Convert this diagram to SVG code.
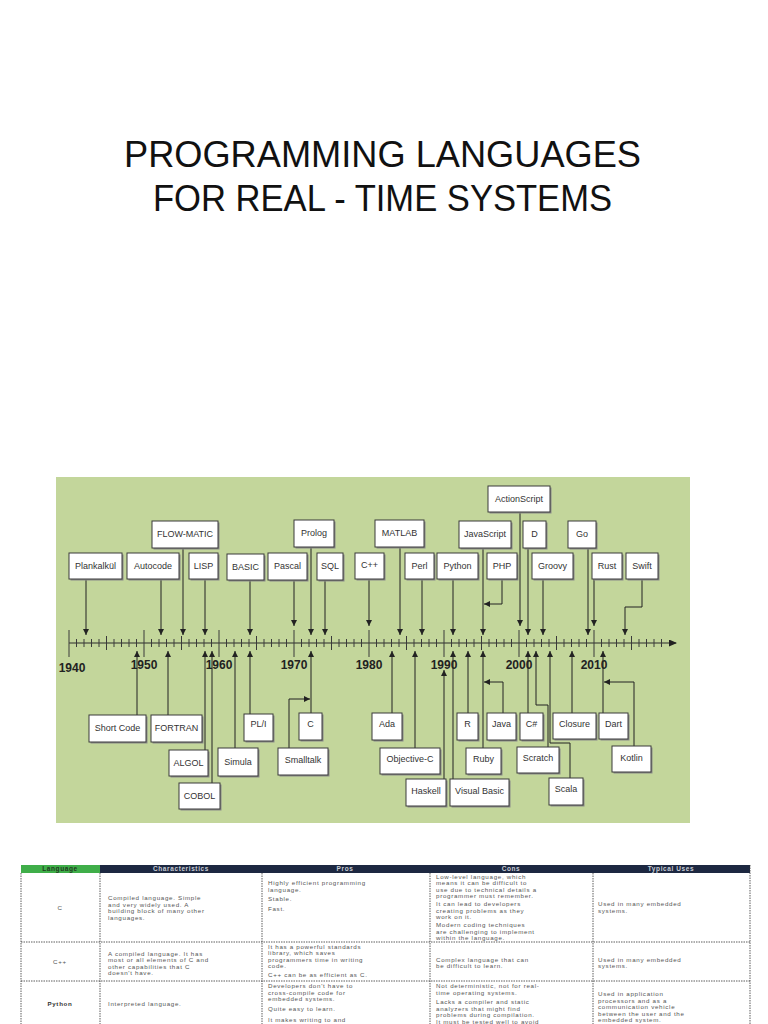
<svg xmlns="http://www.w3.org/2000/svg" width="768" height="1024" viewBox="0 0 768 1024">
<defs>
<style>
.title{font-family:"Liberation Sans",Arial,sans-serif;font-size:37px;fill:#111;text-anchor:middle}
.box rect.b{fill:#fff;stroke:#3a3a3a;stroke-width:1}
.box rect.s{fill:#8a8a8a}
.box text{font-family:"Liberation Sans",Arial,sans-serif;font-size:9px;fill:#333;text-anchor:middle}
.yr{font-family:"Liberation Sans",Arial,sans-serif;font-size:12px;font-weight:bold;fill:#222;text-anchor:middle}
.ax{stroke:#2a2a2a;stroke-width:1.2;fill:none}
.tk{stroke:#3a3a3a;stroke-width:1}
.cn path{stroke:#222;stroke-width:1;fill:none}
.cn .d{marker-end:url(#ah)}
.tbl text{font-family:"Liberation Sans",Arial,sans-serif;font-size:6.2px;fill:#555;letter-spacing:0.7px}
.tbl .h{font-weight:bold;fill:#c8ccd4;text-anchor:middle;font-size:6.5px;letter-spacing:0.6px}
.grid{stroke:#333;stroke-width:0.8;stroke-dasharray:1.5 1;fill:none}
</style>
<marker id="ah" markerUnits="userSpaceOnUse" markerWidth="6" markerHeight="6" refX="6" refY="3" orient="auto">
<path d="M0,0 L6,3 L0,6 z" fill="#222"/>
</marker>
<marker id="axh" markerUnits="userSpaceOnUse" markerWidth="8" markerHeight="7" refX="7" refY="3.5" orient="auto">
<path d="M0,0 L8,3.5 L0,7 z" fill="#222"/>
</marker>
</defs>
<rect width="768" height="1024" fill="#fff"/>
<text class="title" x="382.5" y="167" textLength="517" lengthAdjust="spacingAndGlyphs">PROGRAMMING LANGUAGES</text>
<text class="title" x="382.5" y="211" textLength="459" lengthAdjust="spacingAndGlyphs">FOR REAL - TIME SYSTEMS</text>

<rect id="panel" x="56" y="477" width="634" height="346" fill="#c3d69b"/>

<g id="axis">
<path class="ax" d="M69,643 H676" marker-end="url(#axh)"/>
<path class="tk" d="M69,630V657M144,630V657M219,630V657M294,630V657M369,630V657M444,630V657M519,630V657M594,630V657"/>
<path class="tk" d="M76.5,639V647M84,639V647M91.5,639V647M99,639V647M114,639V647M121.5,639V647M129,639V647M136.5,639V647
M151.5,639V647M159,639V647M166.5,639V647M174,639V647M189,639V647M196.5,639V647M204,639V647M211.5,639V647
M226.5,639V647M234,639V647M241.5,639V647M249,639V647M264,639V647M271.5,639V647M279,639V647M286.5,639V647
M301.5,639V647M309,639V647M316.5,639V647M324,639V647M339,639V647M346.5,639V647M354,639V647M361.5,639V647
M376.5,639V647M384,639V647M391.5,639V647M399,639V647M414,639V647M421.5,639V647M429,639V647M436.5,639V647
M451.5,639V647M459,639V647M466.5,639V647M474,639V647M489,639V647M496.5,639V647M504,639V647M511.5,639V647
M526.5,639V647M534,639V647M541.5,639V647M549,639V647M564,639V647M571.5,639V647M579,639V647M586.5,639V647
M601.5,639V647M609,639V647M616.5,639V647M624,639V647M639,639V647M646.5,639V647M654,639V647M661.5,639V647"/>
<path class="tk" d="M106.5,636V650M181.5,636V650M256.5,636V650M331.5,636V650M406.5,636V650M481.5,636V650M556.5,636V650M631.5,636V650"/>
<text class="yr" x="72" y="672">1940</text>
<text class="yr" x="144" y="669">1950</text>
<text class="yr" x="219" y="669">1960</text>
<text class="yr" x="294" y="669">1970</text>
<text class="yr" x="369" y="669">1980</text>
<text class="yr" x="444" y="669">1990</text>
<text class="yr" x="519" y="669">2000</text>
<text class="yr" x="594" y="669">2010</text>
</g>

<g id="connectors" class="cn">
<path class="d" d="M86,579V635"/>
<path class="d" d="M161,579V635"/>
<path class="d" d="M183,548V635"/>
<path class="d" d="M205,579V635"/>
<path class="d" d="M250,580V635"/>
<path class="d" d="M294,580V626"/>
<path class="d" d="M311,547V635"/>
<path class="d" d="M325,580V635"/>
<path class="d" d="M369,579V626"/>
<path class="d" d="M400,547V635"/>
<path class="d" d="M422,579V635"/>
<path class="d" d="M453,579V635"/>
<path class="d" d="M483,548V635"/>
<path class="d" d="M502,579V604H484"/>
<path class="d" d="M520,512V626"/>
<path class="d" d="M528,548V635"/>
<path class="d" d="M543,579V635"/>
<path class="d" d="M588,548V635"/>
<path class="d" d="M594,579V626"/>
<path class="d" d="M642,579V607H625V635"/>
<path class="d" d="M137,715V651"/>
<path class="d" d="M168,715V651"/>
<path class="d" d="M205,750V651"/>
<path class="d" d="M212,783V651"/>
<path class="d" d="M235,748V651"/>
<path class="d" d="M250,714V651"/>
<path class="d" d="M311,713V651"/>
<path class="d" d="M289,748V699H310"/>
<path class="d" d="M392,713V651"/>
<path class="d" d="M415,748V651"/>
<path class="d" d="M444,779V670"/>
<path class="d" d="M453,779V651"/>
<path class="d" d="M468,713V651"/>
<path class="d" d="M483,748V651"/>
<path class="d" d="M503,713V682H484"/>
<path class="d" d="M528,713V651"/>
<path class="d" d="M548,747V705H536V651"/>
<path class="d" d="M570,778V743H550V651"/>
<path class="d" d="M572,713V651"/>
<path class="d" d="M603,713V651"/>
<path class="d" d="M634,746V682H604"/>
</g>

<g id="n-plankalkul" class="box"><rect class="s" x="70.5" y="554.5" width="53" height="26"/><rect class="b" x="69" y="553" width="53" height="26"/><text x="95.5" y="569">Plankalkül</text></g>
<g id="n-autocode" class="box"><rect class="s" x="128.5" y="554.5" width="52" height="26"/><rect class="b" x="127" y="553" width="52" height="26"/><text x="153" y="569">Autocode</text></g>
<g id="n-flowmatic" class="box"><rect class="s" x="153.5" y="522.5" width="66" height="27"/><rect class="b" x="152" y="521" width="66" height="27"/><text x="185" y="537">FLOW-MATIC</text></g>
<g id="n-lisp" class="box"><rect class="s" x="190.5" y="554.5" width="29" height="26"/><rect class="b" x="189" y="553" width="29" height="26"/><text x="203.5" y="569">LISP</text></g>
<g id="n-basic" class="box"><rect class="s" x="228.5" y="555.5" width="37" height="26"/><rect class="b" x="227" y="554" width="37" height="26"/><text x="245.5" y="570">BASIC</text></g>
<g id="n-pascal" class="box"><rect class="s" x="269.5" y="554.5" width="39" height="27"/><rect class="b" x="268" y="553" width="39" height="27"/><text x="287.5" y="569">Pascal</text></g>
<g id="n-prolog" class="box"><rect class="s" x="295.5" y="521.5" width="40" height="27"/><rect class="b" x="294" y="520" width="40" height="27"/><text x="314" y="536">Prolog</text></g>
<g id="n-sql" class="box"><rect class="s" x="318.5" y="554.5" width="26" height="27"/><rect class="b" x="317" y="553" width="26" height="27"/><text x="330" y="569">SQL</text></g>
<g id="n-cpp" class="box"><rect class="s" x="356.5" y="554.5" width="29" height="26"/><rect class="b" x="355" y="553" width="29" height="26"/><text x="369.5" y="568">C++</text></g>
<g id="n-matlab" class="box"><rect class="s" x="376.5" y="521.5" width="49" height="27"/><rect class="b" x="375" y="520" width="49" height="27"/><text x="399.5" y="536">MATLAB</text></g>
<g id="n-perl" class="box"><rect class="s" x="406.5" y="554.5" width="29" height="26"/><rect class="b" x="405" y="553" width="29" height="26"/><text x="419.5" y="569">Perl</text></g>
<g id="n-python" class="box"><rect class="s" x="438.5" y="554.5" width="41" height="26"/><rect class="b" x="437" y="553" width="41" height="26"/><text x="457.5" y="569">Python</text></g>
<g id="n-javascript" class="box"><rect class="s" x="460.5" y="522.5" width="52" height="27"/><rect class="b" x="459" y="521" width="52" height="27"/><text x="485" y="537">JavaScript</text></g>
<g id="n-php" class="box"><rect class="s" x="488.5" y="554.5" width="30" height="26"/><rect class="b" x="487" y="553" width="30" height="26"/><text x="502" y="569">PHP</text></g>
<g id="n-actionscript" class="box"><rect class="s" x="489.5" y="487.5" width="62" height="26"/><rect class="b" x="488" y="486" width="62" height="26"/><text x="519" y="502">ActionScript</text></g>
<g id="n-d" class="box"><rect class="s" x="524.5" y="522.5" width="23" height="27"/><rect class="b" x="523" y="521" width="23" height="27"/><text x="534.5" y="537">D</text></g>
<g id="n-groovy" class="box"><rect class="s" x="533.5" y="554.5" width="41" height="26"/><rect class="b" x="532" y="553" width="41" height="26"/><text x="552.5" y="569">Groovy</text></g>
<g id="n-go" class="box"><rect class="s" x="569.5" y="522.5" width="28" height="27"/><rect class="b" x="568" y="521" width="28" height="27"/><text x="582" y="537">Go</text></g>
<g id="n-rust" class="box"><rect class="s" x="593.5" y="554.5" width="30" height="26"/><rect class="b" x="592" y="553" width="30" height="26"/><text x="607" y="569">Rust</text></g>
<g id="n-swift" class="box"><rect class="s" x="627.5" y="554.5" width="32" height="26"/><rect class="b" x="626" y="553" width="32" height="26"/><text x="642" y="569">Swift</text></g>

<g id="n-shortcode" class="box"><rect class="s" x="90.5" y="716.5" width="57" height="27"/><rect class="b" x="89" y="715" width="57" height="27"/><text x="117.5" y="731">Short Code</text></g>
<g id="n-fortran" class="box"><rect class="s" x="152.5" y="716.5" width="51" height="27"/><rect class="b" x="151" y="715" width="51" height="27"/><text x="176.5" y="731">FORTRAN</text></g>
<g id="n-algol" class="box"><rect class="s" x="170.5" y="751.5" width="39" height="26"/><rect class="b" x="169" y="750" width="39" height="26"/><text x="188.5" y="766">ALGOL</text></g>
<g id="n-cobol" class="box"><rect class="s" x="180.5" y="784.5" width="41" height="26"/><rect class="b" x="179" y="783" width="41" height="26"/><text x="199.5" y="799">COBOL</text></g>
<g id="n-simula" class="box"><rect class="s" x="219.5" y="749.5" width="40" height="28"/><rect class="b" x="218" y="748" width="40" height="28"/><text x="238" y="765">Simula</text></g>
<g id="n-pli" class="box"><rect class="s" x="245.5" y="715.5" width="29" height="27"/><rect class="b" x="244" y="714" width="29" height="27"/><text x="258.5" y="727">PL/I</text></g>
<g id="n-c" class="box"><rect class="s" x="300.5" y="714.5" width="23" height="27"/><rect class="b" x="299" y="713" width="23" height="27"/><text x="310.5" y="727">C</text></g>
<g id="n-smalltalk" class="box"><rect class="s" x="279.5" y="749.5" width="50" height="27"/><rect class="b" x="278" y="748" width="50" height="27"/><text x="303" y="763">Smalltalk</text></g>
<g id="n-ada" class="box"><rect class="s" x="373.5" y="714.5" width="30" height="27"/><rect class="b" x="372" y="713" width="30" height="27"/><text x="387" y="727">Ada</text></g>
<g id="n-objectivec" class="box"><rect class="s" x="381.5" y="749.5" width="60" height="26"/><rect class="b" x="380" y="748" width="60" height="26"/><text x="410" y="762">Objective-C</text></g>
<g id="n-haskell" class="box"><rect class="s" x="407.5" y="780.5" width="40" height="27"/><rect class="b" x="406" y="779" width="40" height="27"/><text x="426" y="794">Haskell</text></g>
<g id="n-visualbasic" class="box"><rect class="s" x="451.5" y="780.5" width="59" height="27"/><rect class="b" x="450" y="779" width="59" height="27"/><text x="479.5" y="794">Visual Basic</text></g>
<g id="n-r" class="box"><rect class="s" x="458.5" y="714.5" width="21" height="27"/><rect class="b" x="457" y="713" width="21" height="27"/><text x="467.5" y="727">R</text></g>
<g id="n-ruby" class="box"><rect class="s" x="467.5" y="749.5" width="35" height="26"/><rect class="b" x="466" y="748" width="35" height="26"/><text x="483.5" y="762">Ruby</text></g>
<g id="n-java" class="box"><rect class="s" x="488.5" y="714.5" width="29" height="27"/><rect class="b" x="487" y="713" width="29" height="27"/><text x="501.5" y="727">Java</text></g>
<g id="n-csharp" class="box"><rect class="s" x="521.5" y="714.5" width="23" height="27"/><rect class="b" x="520" y="713" width="23" height="27"/><text x="531.5" y="727">C#</text></g>
<g id="n-scratch" class="box"><rect class="s" x="518.5" y="748.5" width="42" height="26"/><rect class="b" x="517" y="747" width="42" height="26"/><text x="538" y="761">Scratch</text></g>
<g id="n-scala" class="box"><rect class="s" x="550.5" y="779.5" width="34" height="27"/><rect class="b" x="549" y="778" width="34" height="27"/><text x="566" y="792">Scala</text></g>
<g id="n-closure" class="box"><rect class="s" x="554.5" y="714.5" width="43" height="26"/><rect class="b" x="553" y="713" width="43" height="26"/><text x="574.5" y="727">Closure</text></g>
<g id="n-dart" class="box"><rect class="s" x="600.5" y="714.5" width="29" height="26"/><rect class="b" x="599" y="713" width="29" height="26"/><text x="613.5" y="727">Dart</text></g>
<g id="n-kotlin" class="box"><rect class="s" x="613.5" y="747.5" width="39" height="26"/><rect class="b" x="612" y="746" width="39" height="26"/><text x="631.5" y="761">Kotlin</text></g>

<g id="table" class="tbl">
<rect x="21" y="865" width="79" height="8" fill="#3fae49"/>
<rect x="100" y="865" width="650" height="8" fill="#1d2841"/>
<text class="h" x="60" y="871.3" style="fill:#1f3a1f">Language</text>
<text class="h" x="181" y="871.3">Characteristics</text>
<text class="h" x="345" y="871.3">Pros</text>
<text class="h" x="511" y="871.3">Cons</text>
<text class="h" x="671" y="871.3">Typical Uses</text>
<path class="grid" d="M21,873V1024M100,873V1024M262,873V1024M430,873V1024M593,873V1024M750,865V1024M21,942H750M21,981H750"/>
<text x="60" y="910" text-anchor="middle">C</text>
<text x="108" y="900">Compiled language. Simple</text>
<text x="108" y="906.5">and very widely used. A</text>
<text x="108" y="913">building block of many other</text>
<text x="108" y="919.5">languages.</text>
<text x="268" y="885">Highly efficient programming</text>
<text x="268" y="891.5">language.</text>
<text x="268" y="901">Stable.</text>
<text x="268" y="911">Fast.</text>
<text x="436" y="878.5">Low-level language, which</text>
<text x="436" y="885">means it can be difficult to</text>
<text x="436" y="891.5">use due to technical details a</text>
<text x="436" y="898">programmer must remember.</text>
<text x="436" y="906">It can lead to developers</text>
<text x="436" y="912.5">creating problems as they</text>
<text x="436" y="919">work on it.</text>
<text x="436" y="927">Modern coding techniques</text>
<text x="436" y="933.5">are challenging to implement</text>
<text x="436" y="940">within the language.</text>
<text x="598" y="906">Used in many embedded</text>
<text x="598" y="912.5">systems.</text>
<text x="60" y="964" text-anchor="middle">C++</text>
<text x="108" y="955.5">A compiled language. It has</text>
<text x="108" y="962">most or all elements of C and</text>
<text x="108" y="968.5">other capabilities that C</text>
<text x="108" y="975">doesn't have.</text>
<text x="268" y="948.5">It has a powerful standards</text>
<text x="268" y="955">library, which saves</text>
<text x="268" y="961.5">programmers time in writing</text>
<text x="268" y="968">code.</text>
<text x="268" y="977">C++ can be as efficient as C.</text>
<text x="436" y="961.5">Complex language that can</text>
<text x="436" y="968">be difficult to learn.</text>
<text x="598" y="961.5">Used in many embedded</text>
<text x="598" y="968">systems.</text>
<text x="60" y="1006" text-anchor="middle" style="font-weight:bold;fill:#333">Python</text>
<text x="108" y="1006">Interpreted language.</text>
<text x="268" y="988">Developers don't have to</text>
<text x="268" y="994.5">cross-compile code for</text>
<text x="268" y="1001">embedded systems.</text>
<text x="268" y="1011">Quite easy to learn.</text>
<text x="268" y="1022">It makes writing to and</text>
<text x="436" y="988">Not deterministic, not for real-</text>
<text x="436" y="994.5">time operating systems.</text>
<text x="436" y="1004">Lacks a compiler and static</text>
<text x="436" y="1010.5">analyzers that might find</text>
<text x="436" y="1017">problems during compilation.</text>
<text x="436" y="1023.5">It must be tested well to avoid</text>
<text x="598" y="996">Used in application</text>
<text x="598" y="1002.5">processors and as a</text>
<text x="598" y="1009">communication vehicle</text>
<text x="598" y="1015.5">between the user and the</text>
<text x="598" y="1022">embedded system.</text>
</g>
</svg>
